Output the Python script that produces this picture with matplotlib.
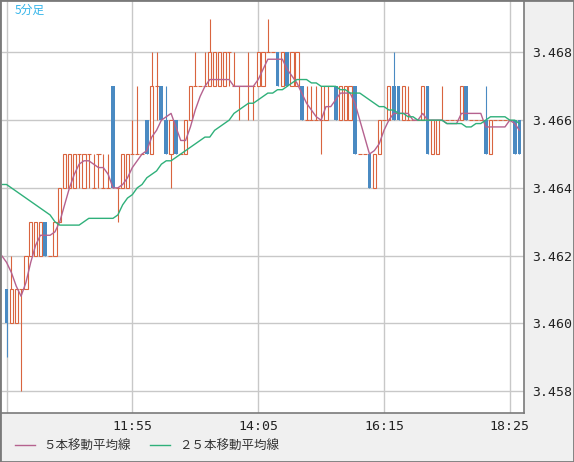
import matplotlib
matplotlib.use('Agg')
from matplotlib import pyplot as plt
from matplotlib.patches import Rectangle
import numpy as np

# 5 minute candles, first one at 09:45 (index 0)
opens = [
    3.461, 3.460, 3.460, 3.461, 3.461, 3.462, 3.462, 3.462, 3.463, 3.462,
    3.462, 3.463, 3.464, 3.464, 3.464, 3.465, 3.464, 3.465, 3.464, 3.465,
    3.464, 3.464, 3.467, 3.464, 3.464, 3.464, 3.465, 3.465, 3.465, 3.466,
    3.465, 3.467, 3.467, 3.466, 3.465, 3.466, 3.465, 3.465, 3.466, 3.467,
    3.467, 3.467, 3.467, 3.467, 3.467, 3.467, 3.468, 3.467, 3.467, 3.467,
    3.467, 3.467, 3.467, 3.467, 3.468, 3.468, 3.468, 3.467, 3.468, 3.467,
    3.467, 3.467, 3.466, 3.466, 3.466, 3.466, 3.466, 3.467, 3.467, 3.466,
    3.466, 3.466, 3.467, 3.465, 3.465, 3.465, 3.464, 3.465, 3.466, 3.466,
    3.467, 3.467, 3.466, 3.466, 3.466, 3.466, 3.466, 3.467, 3.465, 3.465,
    3.466, 3.466, 3.466, 3.466, 3.466, 3.467, 3.466, 3.466, 3.466, 3.466,
    3.465, 3.466, 3.466, 3.466, 3.466, 3.466, 3.466]
highs = [
    3.461, 3.462, 3.461, 3.461, 3.462, 3.463, 3.463, 3.463, 3.463, 3.462,
    3.463, 3.464, 3.465, 3.465, 3.465, 3.465, 3.465, 3.465, 3.465, 3.465,
    3.465, 3.465, 3.467, 3.464, 3.465, 3.465, 3.466, 3.467, 3.465, 3.466,
    3.468, 3.468, 3.467, 3.467, 3.466, 3.466, 3.465, 3.466, 3.467, 3.468,
    3.467, 3.468, 3.469, 3.468, 3.468, 3.468, 3.468, 3.468, 3.467, 3.467,
    3.468, 3.467, 3.468, 3.468, 3.469, 3.468, 3.468, 3.468, 3.468, 3.468,
    3.468, 3.467, 3.467, 3.467, 3.467, 3.467, 3.467, 3.467, 3.467, 3.467,
    3.467, 3.467, 3.467, 3.465, 3.465, 3.465, 3.465, 3.466, 3.466, 3.467,
    3.468, 3.467, 3.467, 3.467, 3.466, 3.466, 3.467, 3.467, 3.466, 3.466,
    3.467, 3.466, 3.466, 3.466, 3.467, 3.467, 3.466, 3.466, 3.466, 3.467,
    3.466, 3.466, 3.466, 3.466, 3.466, 3.466, 3.466]
lows = [
    3.459, 3.460, 3.460, 3.458, 3.461, 3.462, 3.462, 3.462, 3.462, 3.462,
    3.462, 3.463, 3.464, 3.464, 3.464, 3.464, 3.464, 3.464, 3.464, 3.464,
    3.464, 3.464, 3.464, 3.463, 3.464, 3.464, 3.465, 3.465, 3.465, 3.465,
    3.465, 3.466, 3.466, 3.465, 3.464, 3.465, 3.465, 3.465, 3.466, 3.467,
    3.467, 3.467, 3.467, 3.467, 3.467, 3.467, 3.467, 3.467, 3.466, 3.467,
    3.466, 3.466, 3.467, 3.467, 3.468, 3.468, 3.467, 3.467, 3.467, 3.467,
    3.467, 3.466, 3.466, 3.466, 3.466, 3.465, 3.466, 3.467, 3.466, 3.466,
    3.466, 3.466, 3.465, 3.465, 3.465, 3.464, 3.464, 3.465, 3.466, 3.466,
    3.466, 3.466, 3.466, 3.466, 3.466, 3.466, 3.466, 3.465, 3.465, 3.465,
    3.466, 3.466, 3.466, 3.466, 3.466, 3.466, 3.466, 3.466, 3.466, 3.465,
    3.465, 3.466, 3.466, 3.466, 3.466, 3.465, 3.465]
closes = [
    3.460, 3.461, 3.461, 3.461, 3.462, 3.463, 3.463, 3.463, 3.462, 3.462,
    3.463, 3.464, 3.465, 3.465, 3.465, 3.465, 3.465, 3.465, 3.464, 3.465,
    3.464, 3.464, 3.464, 3.464, 3.465, 3.465, 3.465, 3.465, 3.465, 3.465,
    3.467, 3.467, 3.466, 3.465, 3.466, 3.465, 3.465, 3.466, 3.467, 3.467,
    3.467, 3.467, 3.468, 3.468, 3.468, 3.468, 3.468, 3.467, 3.467, 3.467,
    3.467, 3.467, 3.468, 3.468, 3.468, 3.468, 3.467, 3.468, 3.467, 3.468,
    3.468, 3.466, 3.466, 3.466, 3.466, 3.466, 3.467, 3.467, 3.466, 3.467,
    3.467, 3.467, 3.465, 3.465, 3.465, 3.464, 3.465, 3.466, 3.466, 3.467,
    3.466, 3.466, 3.467, 3.466, 3.466, 3.466, 3.467, 3.465, 3.466, 3.466,
    3.466, 3.466, 3.466, 3.466, 3.467, 3.466, 3.466, 3.466, 3.466, 3.465,
    3.466, 3.466, 3.466, 3.466, 3.466, 3.465, 3.465]

# moving averages, starting one bar before 09:45
ma5 = [
    3.4620, 3.4618, 3.4615, 3.4611, 3.4608, 3.4612, 3.4618, 3.4623, 3.4626, 3.4626,
    3.4626, 3.4627, 3.4630, 3.4635, 3.4640, 3.4644, 3.4647, 3.4648, 3.4648, 3.4647,
    3.4646, 3.4646, 3.4644, 3.4640, 3.4640, 3.4641, 3.4643, 3.4646, 3.4648, 3.4650,
    3.4651, 3.4655, 3.4657, 3.4660, 3.4661, 3.4662, 3.4658, 3.4654, 3.4654, 3.4658,
    3.4663, 3.4667, 3.4670, 3.4672, 3.4672, 3.4672, 3.4672, 3.4672, 3.4670, 3.4670,
    3.4670, 3.4670, 3.4670, 3.4672, 3.4675, 3.4678, 3.4678, 3.4678, 3.4678, 3.4675,
    3.4673, 3.4671, 3.4668, 3.4665, 3.4663, 3.4661, 3.4660, 3.4664, 3.4664, 3.4666,
    3.4668, 3.4668, 3.4668, 3.4665, 3.4660, 3.4655, 3.4650, 3.4651, 3.4653, 3.4657,
    3.4660, 3.4662, 3.4662, 3.4662, 3.4662, 3.4660, 3.4660, 3.4662, 3.4660, 3.4660,
    3.4660, 3.4660, 3.4659, 3.4659, 3.4659, 3.4662, 3.4662, 3.4662, 3.4662, 3.4662,
    3.4658, 3.4658, 3.4658, 3.4658, 3.4658, 3.4660, 3.4659, 3.4657]
ma25 = [
    3.4641, 3.4641, 3.4640, 3.4639, 3.4638, 3.4637, 3.4636, 3.4635, 3.4634, 3.4633,
    3.4632, 3.4630, 3.4629, 3.4629, 3.4629, 3.4629, 3.4629, 3.4630, 3.4631, 3.4631,
    3.4631, 3.4631, 3.4631, 3.4631, 3.4632, 3.4635, 3.4637, 3.4638, 3.4640, 3.4641,
    3.4643, 3.4644, 3.4645, 3.4647, 3.4648, 3.4648, 3.4649, 3.4650, 3.4651, 3.4652,
    3.4653, 3.4654, 3.4655, 3.4655, 3.4657, 3.4658, 3.4659, 3.4660, 3.4662, 3.4663,
    3.4664, 3.4665, 3.4665, 3.4666, 3.4667, 3.4668, 3.4668, 3.4669, 3.4669, 3.4670,
    3.4671, 3.4672, 3.4672, 3.4672, 3.4671, 3.4671, 3.4670, 3.4670, 3.4670, 3.4670,
    3.4669, 3.4669, 3.4668, 3.4668, 3.4668, 3.4667, 3.4666, 3.4665, 3.4664, 3.4664,
    3.4663, 3.4663, 3.4662, 3.4662, 3.4661, 3.4661, 3.4660, 3.4660, 3.4660, 3.4660,
    3.4660, 3.4660, 3.4659, 3.4659, 3.4659, 3.4659, 3.4658, 3.4658, 3.4659, 3.4659,
    3.4660, 3.4661, 3.4661, 3.4661, 3.4661, 3.4660, 3.4660, 3.4659]

tick_pos = [0, 26, 52, 78, 104]
tick_labels = ['', '11:55', '14:05', '16:15', '18:25']
price_ticks = [3.458, 3.460, 3.462, 3.464, 3.466, 3.468]
legend_labels = ['５本移動平均線', '２５本移動平均線']

UP = '#d9643f'
DOWN = '#4a8ac2'
MA5_C = '#b5628f'
MA25_C = '#2fb07a'
GRID = '#c8c8c8'
FRAME = '#7a7a7a'
BG = '#f0f0f0'
LW = 0.8

plt.rcParams['font.family'] = ['Noto Sans CJK JP', 'DejaVu Sans']

W, H = 574, 462
fig = plt.figure(figsize=(W / 100, H / 100), dpi=100, facecolor=BG)
ax = fig.add_axes([1.5 / W, (H - 413) / H, 522.5 / W, 412 / H])
ax.set_facecolor('white')

n = len(opens)
for i in range(n):
    o, h, l, c = opens[i], highs[i], lows[i], closes[i]
    if np.isclose(o, c):
        # doji: flat tick plus wick
        ax.vlines(i, l, h, color=UP, lw=LW, zorder=2.5)
        ax.hlines(o, i - 0.42, i + 0.42, color=UP, lw=LW, zorder=2.5)
    elif c > o:
        ax.vlines(i, l, h, color=UP, lw=LW, zorder=2.5)
        ax.add_patch(Rectangle((i - 0.34, o), 0.68, c - o, facecolor='white',
                               edgecolor=UP, lw=LW, zorder=3))
    else:
        ax.vlines(i, l, h, color=DOWN, lw=LW, zorder=2.5)
        ax.add_patch(Rectangle((i - 0.4, c), 0.8, o - c, facecolor=DOWN,
                               edgecolor='none', zorder=3))

ma_x = np.arange(-1, n)
l5, = ax.plot(ma_x, ma5, color=MA5_C, lw=1.0, zorder=4)
l25, = ax.plot(ma_x, ma25, color=MA25_C, lw=1.0, zorder=4)

ax.set_xlim(-1.04, 106.93)
ax.set_ylim(3.45735, 3.46952)

ax.set_xticks(tick_pos)
ax.set_xticklabels(tick_labels)
ax.set_yticks(price_ticks)
ax.set_yticklabels(['%.3f' % p for p in price_ticks])
ax.yaxis.tick_right()
ax.tick_params(axis='both', length=0, labelsize=9.5, labelcolor='#222222')
ax.tick_params(axis='x', pad=5)
ax.tick_params(axis='y', pad=6)
for lab in ax.get_xticklabels() + ax.get_yticklabels():
    lab.set_fontfamily('DejaVu Sans Mono')

ax.grid(True, color=GRID, lw=1.0, zorder=0)
ax.set_axisbelow(True)
for side in ['left', 'top']:
    ax.spines[side].set_visible(False)
for side in ['right', 'bottom']:
    ax.spines[side].set_color(FRAME)
    ax.spines[side].set_linewidth(1.2)

fig.text(15 / W, 1 - 10 / H, '5分足', color='#35b5ea', fontsize=8.5,
         va='center', ha='left')

fig.legend([l5, l25], legend_labels, loc='center left',
           bbox_to_anchor=(15 / W, 1 - 446 / H), ncol=2, frameon=False,
           fontsize=9, handlelength=1.6, handletextpad=0.7,
           columnspacing=1.5, borderpad=0, borderaxespad=0,
           labelcolor='#333333')

fig.add_artist(Rectangle((0, 0), 1, 1, transform=fig.transFigure,
                         fill=False, edgecolor=FRAME, lw=2))

plt.savefig('out.png', dpi=100, facecolor=BG)
